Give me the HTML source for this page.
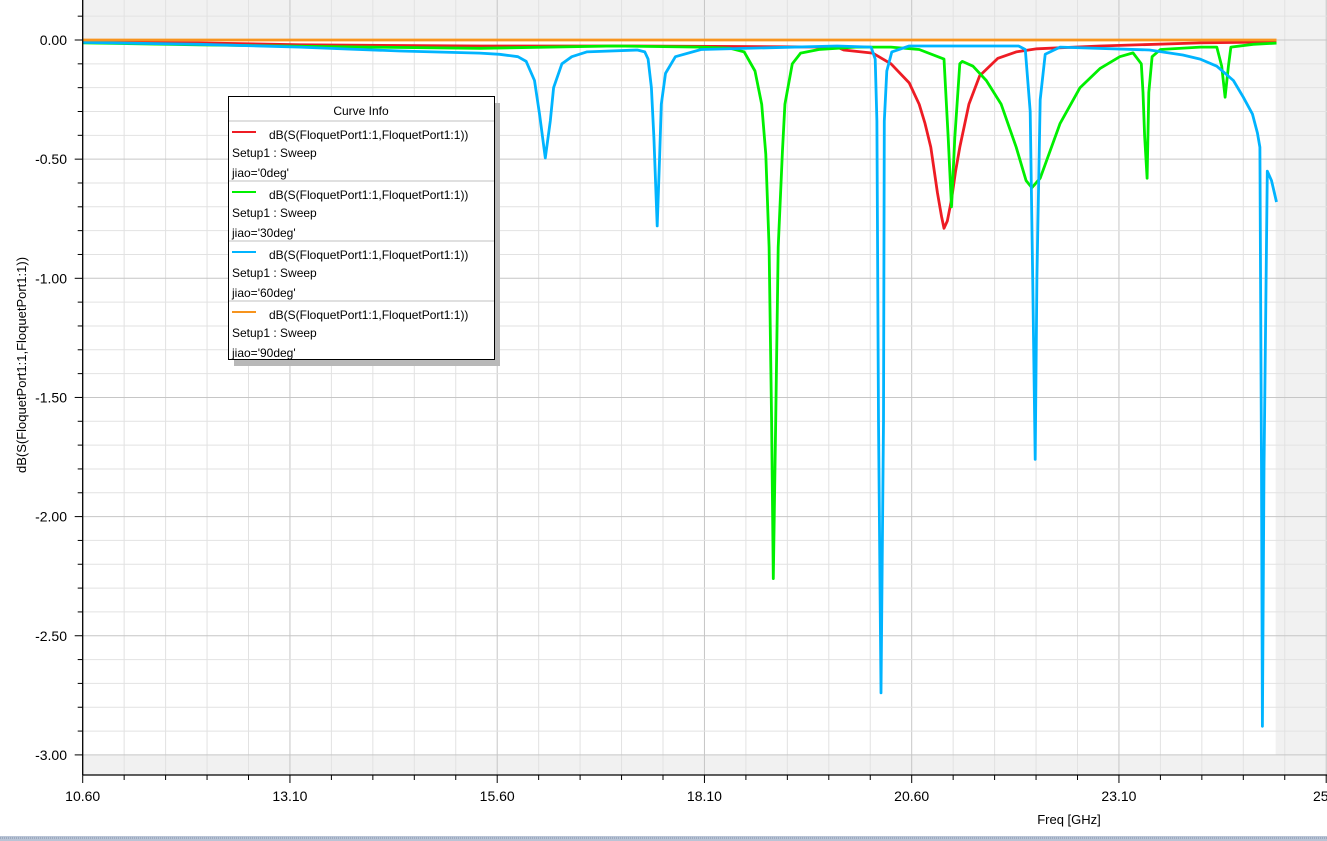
<!DOCTYPE html>
<html><head><meta charset="utf-8">
<style>
html,body{margin:0;padding:0;background:#fff;}
svg{display:block;font-family:"Liberation Sans",Arial,sans-serif;}
</style></head>
<body>
<svg id="chart" width="1327" height="841" viewBox="0 0 1327 841" xmlns="http://www.w3.org/2000/svg">
  <rect x="0" y="0" width="1327" height="841" fill="#fff"/>
  <g id="plot-bg">
    <rect x="82.7" y="0" width="1245" height="775" fill="#f1f1f1"/>
    <rect id="data-region" x="82.7" y="40" width="1193" height="715" fill="#fff"/>
  </g>
  <g id="grid"></g>
  <g id="series"></g>
  <g id="axes"></g>
  <text x="1069" y="824" font-size="13" text-anchor="middle" fill="#000">Freq [GHz]</text>
  <text transform="translate(26,365) rotate(-90)" font-size="13" text-anchor="middle" fill="#000">dB(S(FloquetPort1:1,FloquetPort1:1))</text>
  <rect x="0" y="836" width="1327" height="5" fill="#b9c4d6"/>
  <line x1="0" y1="838" x2="1327" y2="838" stroke="#7f8fa8" stroke-width="1" stroke-dasharray="1 1"/>
  <g id="legend">
    <rect x="234" y="103" width="266" height="263" fill="#b8b8b8"/>
    <rect x="228.5" y="96.5" width="266" height="263" fill="#fff" stroke="#000" stroke-width="1"/>
    <text x="361" y="115" font-size="12" text-anchor="middle">Curve Info</text>
    <line x1="229" y1="121" x2="494" y2="121" stroke="#c0c0c0"/>
  </g>
</svg>
<script>
// ---- data (freq GHz, dB) ----
const xTickLabels = ["10.60","13.10","15.60","18.10","20.60","23.10","25."];
const yTickLabels = ["0.00","-0.50","-1.00","-1.50","-2.00","-2.50","-3.00"];
const legendNames = ["jiao='0deg'","jiao='30deg'","jiao='60deg'","jiao='90deg'"];
const seriesColors = ["#ee1c24","#00f000","#00b4ff","#f7941d"];

const freq0 = [10.6,12.0,13.22,15.39,17.29,19.70,19.78,20.13,20.35,20.57,20.69,20.76,20.83,20.91,20.96,20.99,21.03,21.08,21.13,21.18,21.29,21.42,21.64,21.86,22.11,22.87,24.08,25.0];
const db0   = [-0.008,-0.012,-0.02,-0.025,-0.025,-0.03,-0.042,-0.055,-0.1,-0.18,-0.27,-0.35,-0.45,-0.64,-0.74,-0.79,-0.76,-0.67,-0.55,-0.45,-0.27,-0.15,-0.077,-0.05,-0.037,-0.025,-0.012,-0.008];

const freq30 = [10.6,12.0,13.58,15.39,17.0,18.06,18.41,18.58,18.71,18.79,18.84,18.88,18.91,18.93,18.96,18.99,19.04,19.07,19.16,19.26,19.48,19.92,20.35,20.69,20.99,21.04,21.08,21.12,21.18,21.21,21.34,21.50,21.68,21.86,21.98,22.05,22.15,22.39,22.63,22.87,23.11,23.27,23.37,23.39,23.41,23.44,23.46,23.50,23.60,24.08,24.28,24.34,24.38,24.42,24.45,24.72,25.0];
const db30   = [-0.012,-0.02,-0.028,-0.035,-0.025,-0.03,-0.035,-0.05,-0.13,-0.27,-0.48,-0.87,-1.6,-2.26,-1.6,-0.87,-0.47,-0.27,-0.1,-0.055,-0.04,-0.03,-0.03,-0.04,-0.08,-0.41,-0.70,-0.41,-0.1,-0.09,-0.11,-0.17,-0.27,-0.45,-0.59,-0.62,-0.58,-0.35,-0.2,-0.12,-0.07,-0.054,-0.1,-0.22,-0.4,-0.58,-0.22,-0.07,-0.04,-0.03,-0.03,-0.11,-0.24,-0.11,-0.03,-0.018,-0.013];

const freq60 = [10.6,12.0,13.22,13.82,14.43,15.39,15.63,15.85,15.95,16.05,16.11,16.18,16.24,16.28,16.38,16.50,16.68,17.29,17.38,17.42,17.46,17.49,17.53,17.56,17.58,17.63,17.75,18.06,19.70,20.11,20.16,20.18,20.20,20.23,20.26,20.27,20.30,20.36,20.57,21.89,21.97,22.03,22.06,22.09,22.11,22.15,22.21,22.39,23.47,23.87,24.08,24.28,24.48,24.60,24.71,24.77,24.80,24.82,24.83,24.85,24.89,24.94,25.0];
const db60   = [-0.01,-0.018,-0.03,-0.038,-0.046,-0.055,-0.06,-0.07,-0.09,-0.17,-0.31,-0.495,-0.34,-0.2,-0.1,-0.07,-0.05,-0.042,-0.05,-0.08,-0.2,-0.41,-0.78,-0.48,-0.27,-0.14,-0.07,-0.04,-0.025,-0.03,-0.08,-0.34,-1.6,-2.74,-1.6,-0.34,-0.13,-0.05,-0.025,-0.025,-0.04,-0.3,-1.0,-1.76,-1.0,-0.25,-0.06,-0.03,-0.042,-0.063,-0.08,-0.11,-0.17,-0.24,-0.31,-0.39,-0.45,-1.8,-2.88,-1.8,-0.55,-0.59,-0.68];

const freq90 = [10.6,25.0];
const db90   = [0.0,0.0];

// ---- axes ----
const X0 = 82.7, PXG = 82.9, Y0 = 40, PXD = 238.3;
function xs(f){ return X0 + (f - 10.6) * PXG; }
function ys(d){ return Y0 - d * PXD; }
const NS = "http://www.w3.org/2000/svg";
function mk(tag, attrs, parent){ const e = document.createElementNS(NS, tag); for (const k in attrs) e.setAttribute(k, attrs[k]); parent.appendChild(e); return e; }

const grid = document.getElementById('grid');
const axes = document.getElementById('axes');
for (let i = 0; i <= 30; i++) {
  const f = 10.6 + i * 0.5, x = xs(f);
  const major = i % 5 === 0;
  const l = mk('line', {x1:x, y1:0, x2:x, y2:775, stroke: major ? '#c6c6c6' : '#e2e2e2', 'stroke-width':1}, grid);
  
  
  const t = mk('line', {x1:x, y1:775, x2:x, y2: major ? 783 : 780, stroke:'#000', 'stroke-width':1}, axes);
  
  
}
for (let i = -1; i <= 30; i++) {
  const d = -i * 0.1, y = ys(d);
  const major = i % 5 === 0;
  const l = mk('line', {x1:X0, y1:y, x2:1327, y2:y, stroke: major ? '#c6c6c6' : '#e2e2e2', 'stroke-width':1}, grid);
  
  
  const t = mk('line', {x1: major ? X0 - 8 : X0 - 5, y1:y, x2:X0, y2:y, stroke:'#000', 'stroke-width':1}, axes);
  
  
}
const xa = mk('line', {x1:X0, y1:775, x2:1327, y2:775, stroke:'#000', 'stroke-width':1.3}, axes);


const ya = mk('line', {x1:X0, y1:0, x2:X0, y2:775, stroke:'#000', 'stroke-width':1.3}, axes);


xTickLabels.forEach((s, i) => {
  const t = mk('text', {x: xs(10.6 + i * 2.5), y: 801, 'font-size': 14, 'text-anchor': i === 6 ? 'start' : 'middle'}, axes);
  if (i === 6) t.setAttribute('x', 1313);
  
  
  t.textContent = s;
});
yTickLabels.forEach((s, i) => {
  const t = mk('text', {x: 67, y: ys(-i * 0.5) + 5, 'font-size': 14, 'text-anchor': 'end'}, axes);
  
  
  t.textContent = s;
});

// ---- series ----
const sg = document.getElementById('series');
const allF = [freq0, freq30, freq60, freq90];
const allD = [db0, db30, db60, db90];
[0, 1, 2, 3].forEach(k => {
  const pts = allF[k].map((f, i) => xs(f).toFixed(1) + ',' + ys(allD[k][i]).toFixed(1)).join(' ');
  const p = mk('polyline', {points: pts, fill: 'none', stroke: seriesColors[k], 'stroke-width': 2.8, 'stroke-linejoin': 'round'}, sg);
  
  
});

// ---- legend ----
const lg = document.getElementById('legend');
legendNames.forEach((n, i) => {
  const y0 = 121 + i * 60;
  if (i > 0) { const s = mk('line', {x1:229, y1:y0, x2:494, y2:y0, stroke:'#c0c0c0'}, lg);
    
     }
  const sw = mk('line', {x1:232, y1:y0 + 11, x2:256, y2:y0 + 11, stroke: seriesColors[i], 'stroke-width': 2}, lg);
  
  
  const t1 = mk('text', {x:269, y:y0 + 18, 'font-size': 12}, lg);
  
  
  t1.textContent = 'dB(S(FloquetPort1:1,FloquetPort1:1))';
  const t2 = mk('text', {x:232, y:y0 + 36, 'font-size': 12}, lg);
  
  
  t2.textContent = 'Setup1 : Sweep';
  const t3 = mk('text', {x:232, y:y0 + 56, 'font-size': 12}, lg);
  
  
  t3.textContent = n;
});
</script>
</body></html>
